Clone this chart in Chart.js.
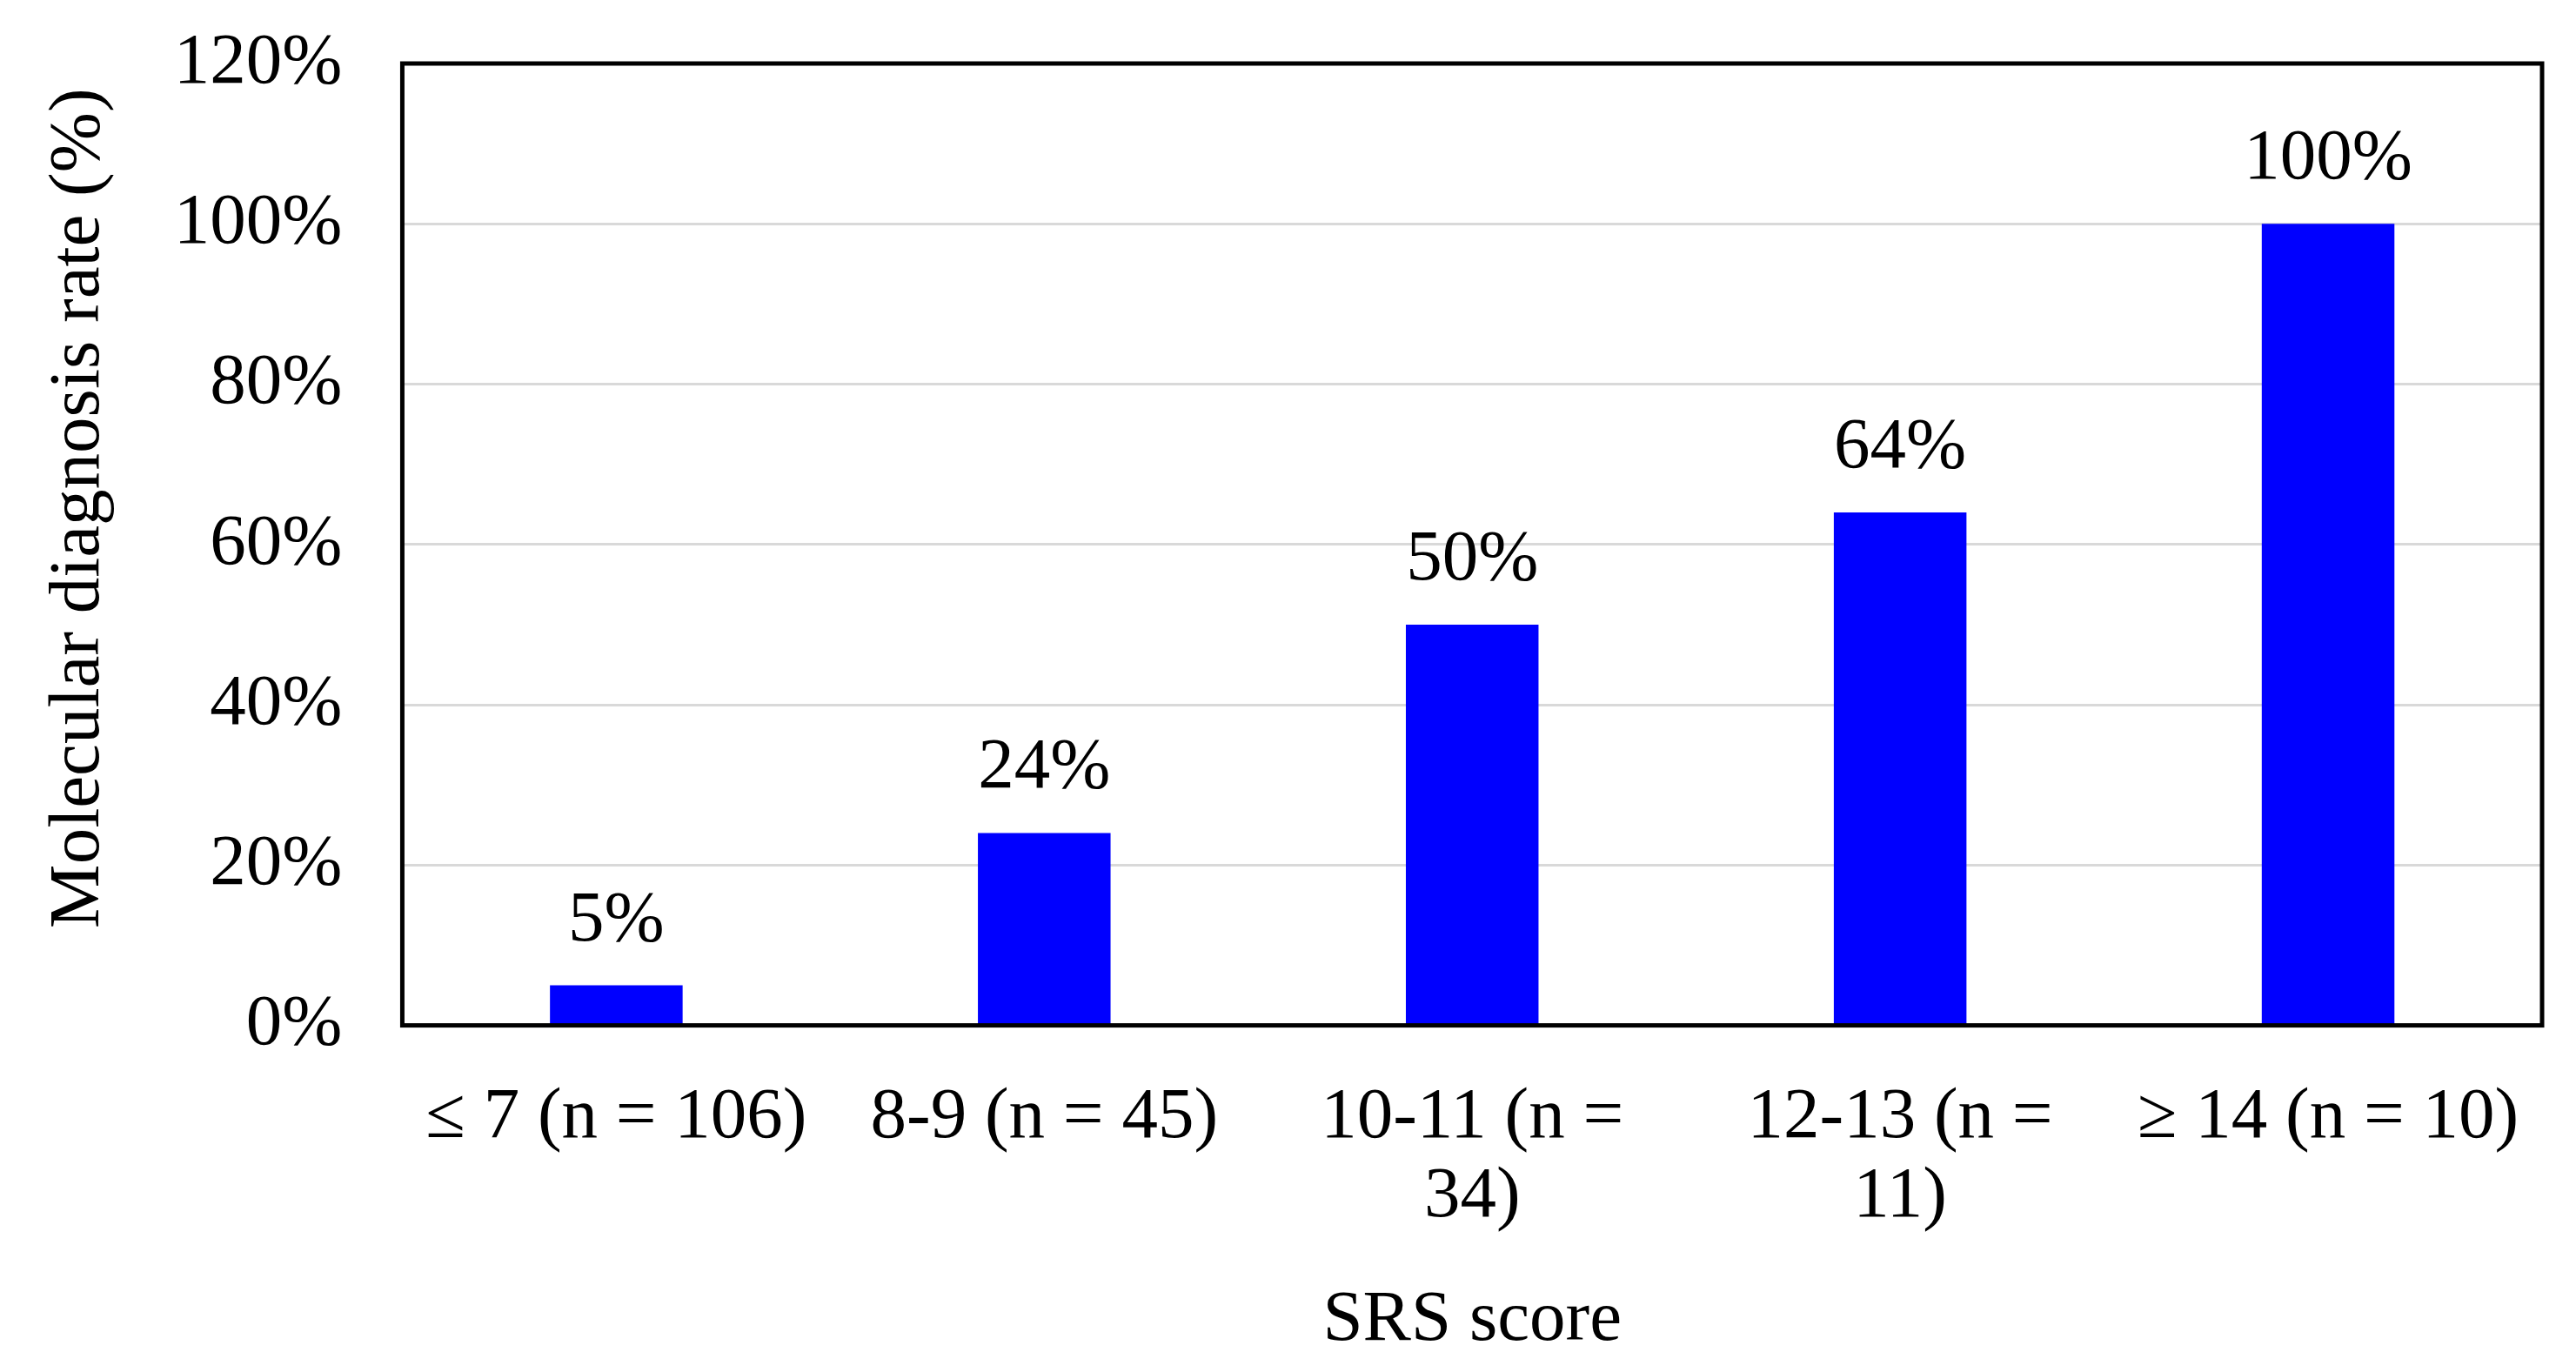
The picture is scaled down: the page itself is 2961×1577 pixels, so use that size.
<!DOCTYPE html>
<html>
<head>
<meta charset="utf-8">
<title>SRS score chart</title>
<script src="https://cdn.jsdelivr.net/npm/chart.js@4"></script>
<style>
  html, body { margin: 0; padding: 0; background: #fff; }
  .graph-container { width: 2961px; height: 1577px; position: relative; }
</style>
</head>
<body>
<div class="graph-container"><canvas id="canvas"></canvas></div>
<script>
const categories = [
    ["\u2264 7 (n = 106)"],
    ["8-9 (n = 45)"],
    ["10-11 (n =", "34)"],
    ["12-13 (n =", "11)"],
    ["\u2265 14 (n = 10)"]
];
const diagnosisRate = [5, 24, 50, 64, 100];
const yTicks = [0, 20, 40, 60, 80, 100, 120];

const serif = "'Liberation Serif', 'Times New Roman', serif";

// value labels above each bar
const barLabels = {
    id: "barLabels",
    afterDatasetsDraw(chart) {
        let ctx = chart.ctx;
        let meta = chart.getDatasetMeta(0);
        ctx.save();
        ctx.font = "83px " + serif;
        ctx.fillStyle = "#000";
        ctx.textAlign = "center";
        ctx.textBaseline = "alphabetic";
        meta.data.forEach((bar, i) => {
            ctx.fillText(diagnosisRate[i] + "%", bar.x, bar.y - 52);
        });
        ctx.restore();
    }
};

// black frame round the plot area
const plotFrame = {
    id: "plotFrame",
    afterDraw(chart) {
        let a = chart.chartArea;
        let ctx = chart.ctx;
        ctx.save();
        ctx.strokeStyle = "#000";
        ctx.lineWidth = 5;
        ctx.strokeRect(a.left, a.top, a.right - a.left, a.bottom - a.top);
        ctx.restore();
    }
};

let canvas = document.getElementById("canvas").getContext("2d");

let chart = new Chart(canvas, {
    type: "bar",
    data: {
        labels: categories,
        datasets: [{
            data: diagnosisRate,
            backgroundColor: "#0000ff",
            barPercentage: 0.31,
            categoryPercentage: 1
        }]
    },
    options: {
        responsive: true,
        maintainAspectRatio: false,
        animation: false,
        layout: {
            padding: { top: 73, right: 39, bottom: 34, left: 41 }
        },
        scales: {
            x: {
                // invisible tick marks give the gap under the axis
                grid: { display: false, drawTicks: true, tickLength: 61, tickColor: "rgba(0,0,0,0)" },
                border: { display: false },
                ticks: {
                    color: "#000",
                    padding: 0,
                    maxRotation: 0,
                    autoSkip: false,
                    font: { family: serif, size: 83, lineHeight: 1.1 }
                },
                title: {
                    display: true,
                    text: "SRS score",
                    color: "#000",
                    padding: { top: 71, bottom: 0 },
                    font: { family: serif, size: 83, lineHeight: 0.6 }
                }
            },
            y: {
                min: 0,
                max: 120,
                afterBuildTicks(axis) {
                    axis.ticks = yTicks.map(v => ({ value: v }));
                },
                grid: {
                    color: "#d9d9d9",
                    lineWidth: 3,
                    drawTicks: true,
                    tickLength: 69,
                    tickColor: "rgba(0,0,0,0)"
                },
                border: { display: false },
                ticks: {
                    color: "#000",
                    padding: 0,
                    font: { family: serif, size: 83 },
                    callback: v => v + "%"
                },
                title: {
                    display: true,
                    text: "    Molecular diagnosis rate (%)",
                    color: "#000",
                    padding: { top: 25, bottom: 84 },
                    font: { family: serif, size: 83, lineHeight: 0.6 }
                }
            }
        },
        plugins: {
            legend: { display: false },
            tooltip: { enabled: false }
        }
    },
    plugins: [barLabels, plotFrame]
});
</script>
</body>
</html>
